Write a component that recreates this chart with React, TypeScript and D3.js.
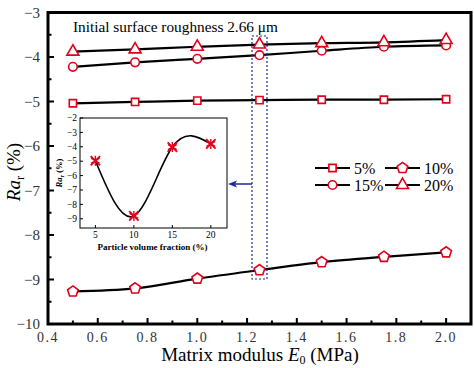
import React, { useEffect, useRef } from 'react'
import * as d3 from 'd3'

// matrix modulus E0 (MPa)
const modulus = [0.5, 0.75, 1.0, 1.25, 1.5, 1.75, 2.0]
// Ra_r (%) for each particle volume fraction
const ra5 = [-5.04, -5.01, -4.98, -4.97, -4.96, -4.96, -4.95]
const ra10 = [-9.27, -9.2, -8.98, -8.79, -8.61, -8.49, -8.39]
const ra15 = [-4.22, -4.12, -4.04, -3.96, -3.86, -3.77, -3.74]
const ra20 = [-3.88, -3.83, -3.77, -3.72, -3.69, -3.67, -3.62]
const seriesNames = ['5%', '10%', '15%', '20%']

const xTicks = [0.4, 0.6, 0.8, 1.0, 1.2, 1.4, 1.6, 1.8, 2.0]
const yTicks = [-3, -4, -5, -6, -7, -8, -9, -10]

// inset: Ra_r at E0 = 1.25 MPa vs particle volume fraction
const fractions = [5, 10, 15, 20]
const raInset = [-4.97, -8.8, -4.02, -3.8]
const insetXTicks = [5, 10, 15, 20]
const insetYTicks = [-2, -3, -4, -5, -6, -7, -8, -9]

const RED = '#e3001b'
const NAVY = '#1b2a9a'
const FONT = '"Liberation Serif", "Times New Roman", serif'

const pentagon = (r: number) => {
  const pts = d3.range(5).map(k => {
    const a = -Math.PI / 2 + (k * 2 * Math.PI) / 5
    return [r * Math.cos(a), r * Math.sin(a)]
  })
  return 'M' + pts.map(p => p.join(',')).join('L') + 'Z'
}

const markerPath = (kind: string) => {
  if (kind === '5%') return d3.symbol(d3.symbolSquare, 52)()
  if (kind === '10%') return pentagon(5.6)
  if (kind === '15%') return d3.symbol(d3.symbolCircle, 58)()
  return d3.symbol(d3.symbolTriangle, 62)()
}

const App = () => {
  const ref = useRef<SVGSVGElement>(null)

  useEffect(() => {
    const svg = d3.select(ref.current)
    svg.selectAll('*').remove()

    const left = 48, right = 471, top = 12.5, bottom = 324
    const x = d3.scaleLinear().domain([0.4, 2.1]).range([left, right])
    const y = d3.scaleLinear().domain([-10, -3]).range([bottom, top])

    const series = [ra5, ra10, ra15, ra20]
    const line = d3.line<number>()
      .x((d, i) => x(modulus[i]))
      .y(d => y(d))
      .curve(d3.curveMonotoneX)

    const plot = svg.append('g')
    series.forEach((vals, si) => {
      plot.append('path')
        .attr('d', line(vals))
        .attr('fill', 'none')
        .attr('stroke', '#000')
        .attr('stroke-width', 2.2)
      plot.selectAll('.m' + si)
        .data(vals)
        .join('path')
        .attr('class', 'm' + si)
        .attr('d', markerPath(seriesNames[si]))
        .attr('transform', (d, i) => `translate(${x(modulus[i])},${y(d)})`)
        .attr('fill', '#fff')
        .attr('stroke', RED)
        .attr('stroke-width', 1.6)
    })

    // dotted box around the E0 = 1.25 MPa column
    plot.append('rect')
      .attr('x', x(1.25) - 7.5).attr('y', 36)
      .attr('width', 15).attr('height', 243)
      .attr('fill', 'none')
      .attr('stroke', NAVY)
      .attr('stroke-width', 1.2)
      .attr('stroke-dasharray', '2,2')

    // arrow into the inset
    const arrowY = 184
    plot.append('line')
      .attr('x1', x(1.25) - 7.5).attr('x2', 234)
      .attr('y1', arrowY).attr('y2', arrowY)
      .attr('stroke', NAVY).attr('stroke-width', 1.5)
    plot.append('path')
      .attr('d', `M228,${arrowY}L237,${arrowY - 3.5}L235,${arrowY}L237,${arrowY + 3.5}Z`)
      .attr('fill', NAVY)

    // inset
    const il = 80, ir = 227, it = 118, ib = 228
    const ix = d3.scaleLinear().domain([3, 22.1]).range([il, ir])
    const iy = d3.scaleLinear().domain([-9.64, -2]).range([ib, it])
    const inset = svg.append('g')
    inset.append('rect')
      .attr('x', il).attr('y', it).attr('width', ir - il).attr('height', ib - it)
      .attr('fill', '#fff').attr('stroke', '#000').attr('stroke-width', 1)
    const insetLine = d3.line<number>()
      .x((d, i) => ix(fractions[i]))
      .y(d => iy(d))
      .curve(d3.curveNatural)
    inset.append('path')
      .attr('d', insetLine(raInset))
      .attr('fill', 'none').attr('stroke', '#000').attr('stroke-width', 1.6)
    const star = inset.selectAll('.star').data(raInset).join('g')
      .attr('class', 'star')
      .attr('transform', (d, i) => `translate(${ix(fractions[i])},${iy(d)})`)
    star.append('path').attr('d', d3.symbol(d3.symbolTimes, 60)())
      .attr('fill', 'none').attr('stroke', RED).attr('stroke-width', 1.8)
    star.append('path').attr('d', d3.symbol(d3.symbolAsterisk, 70)())
      .attr('fill', 'none').attr('stroke', RED).attr('stroke-width', 1.4)

    insetXTicks.forEach(t => {
      inset.append('line').attr('x1', ix(t)).attr('x2', ix(t))
        .attr('y1', ib).attr('y2', ib - 3).attr('stroke', '#000')
      inset.append('text').attr('x', ix(t)).attr('y', ib + 10)
        .attr('text-anchor', 'middle').attr('font-size', 9.5)
        .attr('font-family', FONT).text(t)
    })
    insetYTicks.forEach(t => {
      inset.append('line').attr('x1', il).attr('x2', il + 3)
        .attr('y1', iy(t)).attr('y2', iy(t)).attr('stroke', '#000')
      inset.append('text').attr('x', il - 3).attr('y', iy(t) + 3.3)
        .attr('text-anchor', 'end').attr('font-size', 9.5)
        .attr('font-family', FONT).text(String(t).replace('-', '\u2212'))
    })
    inset.append('text')
      .attr('x', (il + ir) / 2 - 1).attr('y', ib + 22)
      .attr('text-anchor', 'middle').attr('font-size', 9)
      .attr('font-weight', 'bold').attr('font-family', FONT)
      .text('Particle volume fraction (%)')
    const iyl = inset.append('text')
      .attr('transform', `translate(62,${(it + ib) / 2}) rotate(-90)`)
      .attr('text-anchor', 'middle').attr('font-size', 8.5)
      .attr('font-weight', 'bold').attr('font-family', FONT)
    iyl.append('tspan').attr('font-style', 'italic').text('Ra')
    iyl.append('tspan').attr('font-size', 6).attr('dy', 2).text('r')
    iyl.append('tspan').attr('dy', -2).text(' (%)')

    // legend
    const legendRows = [[315, 168], [385, 168], [315, 185], [385, 185]]
    seriesNames.forEach((name, i) => {
      const [lx, ly] = legendRows[i]
      const g = svg.append('g')
      g.append('line').attr('x1', lx).attr('x2', lx + 35)
        .attr('y1', ly).attr('y2', ly).attr('stroke', '#000').attr('stroke-width', 2.2)
      g.append('path').attr('d', markerPath(name))
        .attr('transform', `translate(${lx + 17.5},${ly})`)
        .attr('fill', '#fff').attr('stroke', RED).attr('stroke-width', 1.6)
      g.append('text').attr('x', lx + 39).attr('y', ly + 5.5)
        .attr('font-size', 16).attr('font-family', FONT).text(name)
    })

    // annotation
    svg.append('text').attr('x', 73).attr('y', 32)
      .attr('font-size', 15.3).attr('font-family', FONT)
      .text('Initial surface roughness 2.66 \u03bcm')

    // axes and frame
    const axes = svg.append('g')
    d3.range(0.4, 2.101, 0.1).forEach(v => {
      const major = Math.round(v * 10) % 2 === 0
      axes.append('line').attr('x1', x(v)).attr('x2', x(v))
        .attr('y1', bottom).attr('y2', bottom - (major ? 6 : 3.5))
        .attr('stroke', '#000').attr('stroke-width', 2)
    })
    d3.range(-10, -2.99, 0.5).forEach(v => {
      const major = Number.isInteger(v)
      axes.append('line').attr('x1', left).attr('x2', left + (major ? 6 : 3.5))
        .attr('y1', y(v)).attr('y2', y(v))
        .attr('stroke', '#000').attr('stroke-width', 2)
    })
    axes.append('rect')
      .attr('x', left).attr('y', top).attr('width', right - left).attr('height', bottom - top)
      .attr('fill', 'none').attr('stroke', '#000').attr('stroke-width', 3)

    xTicks.forEach(t => {
      axes.append('text').attr('x', x(t)).attr('y', bottom + 18)
        .attr('text-anchor', 'middle').attr('font-size', 14)
        .attr('letter-spacing', 1.5).attr('fill', '#333')
        .attr('font-family', FONT).text(d3.format('.1f')(t))
    })
    yTicks.forEach(t => {
      axes.append('text').attr('x', 40).attr('y', y(t) + 5)
        .attr('text-anchor', 'end').attr('font-size', 15).attr('fill', '#333')
        .attr('font-family', FONT).text(String(t).replace('-', '\u2212'))
    })

    const xt = axes.append('text').attr('x', 260).attr('y', 361)
      .attr('text-anchor', 'middle').attr('font-size', 19).attr('font-family', FONT)
    xt.append('tspan').text('Matrix modulus ')
    xt.append('tspan').attr('font-style', 'italic').text('E')
    xt.append('tspan').attr('font-size', 12).attr('dy', 3).text('0')
    xt.append('tspan').attr('dy', -3).text(' (MPa)')

    const yt = axes.append('text')
      .attr('transform', `translate(20,${172}) rotate(-90)`)
      .attr('text-anchor', 'middle').attr('font-size', 19).attr('font-family', FONT)
    yt.append('tspan').attr('font-style', 'italic').text('Ra')
    yt.append('tspan').attr('font-size', 12).attr('dy', 4).text('r')
    yt.append('tspan').attr('dy', -4).text(' (%)')
  }, [])

  return (
    <svg ref={ref} width={474} height={368}
      style={{ position: 'absolute', left: 0, top: 0, background: '#fff' }} />
  )
}

export default App
